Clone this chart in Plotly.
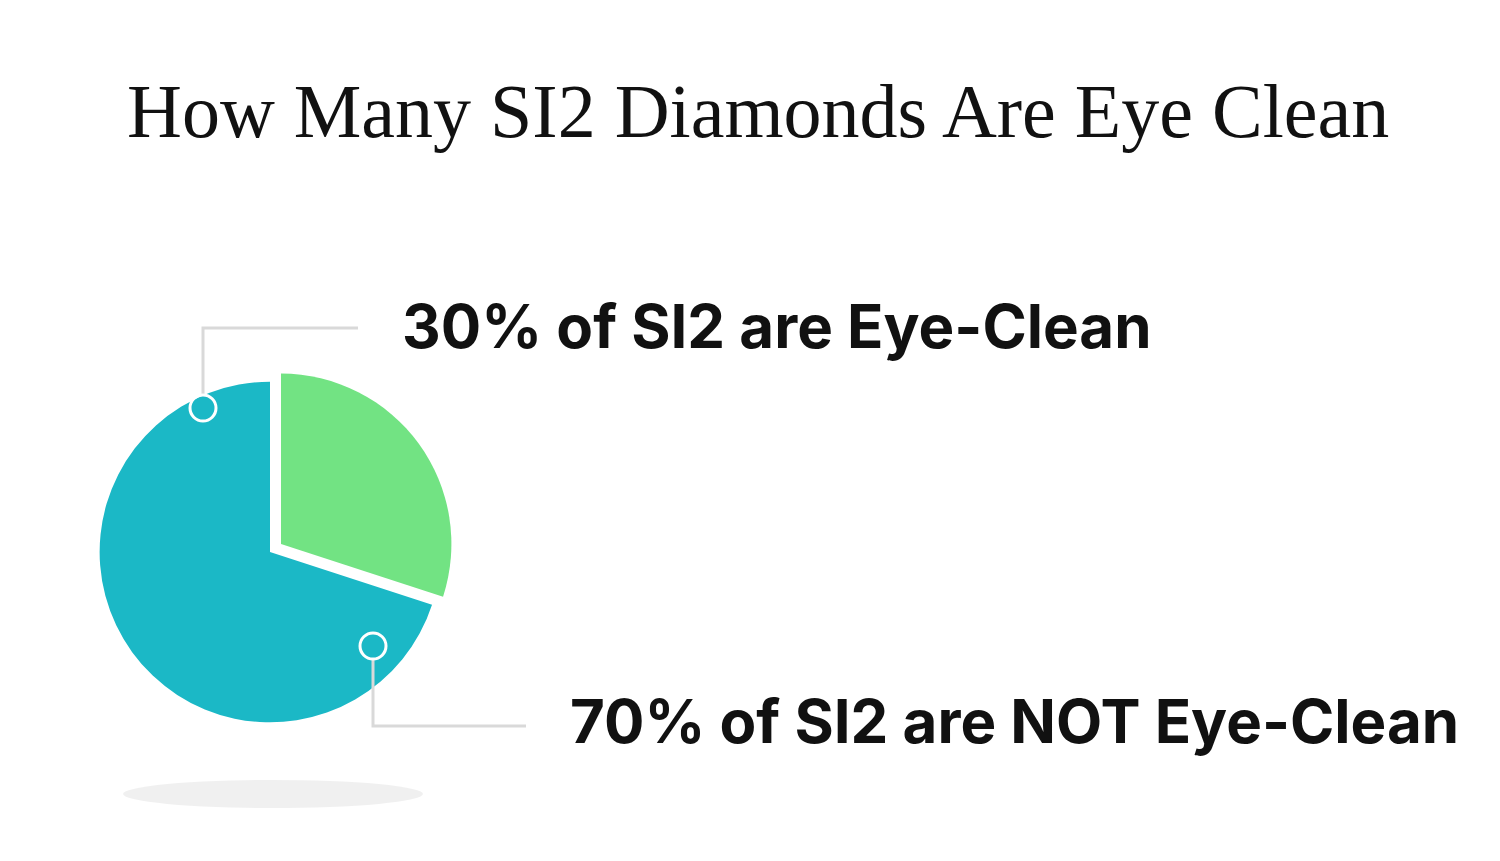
import plotly.graph_objects as go

labels = ["30% of SI2 are Eye-Clean", "70% of SI2 are NOT Eye-Clean"]
values = [30, 70]
colors = ["#72E383", "#1BB8C6"]

W, H = 1500, 861
def px(x): return x / W
def py(y): return 1 - y / H

fig = go.Figure(go.Pie(
    labels=labels, values=values, sort=False, direction="clockwise",
    rotation=0, pull=[0.08, 0], marker=dict(colors=colors, line=dict(width=0)),
    textinfo="none", hoverinfo="label+percent", showlegend=False,
    domain=dict(x=[px(78), px(446)], y=[py(728), py(360)])))

shapes = [
    dict(type="circle", xref="paper", yref="paper", x0=px(115), x1=px(415), y0=py(800), y1=py(772),
         fillcolor="rgba(0,0,0,0.06)", line=dict(width=0), layer="below"),
    dict(type="path", xref="paper", yref="paper",
         path=f"M {px(195)} {py(387)} L {px(195)} {py(320)} L {px(350)} {py(320)}",
         line=dict(color="#D9D9D9", width=3)),
    dict(type="path", xref="paper", yref="paper",
         path=f"M {px(365)} {py(651)} L {px(365)} {py(718)} L {px(518)} {py(718)}",
         line=dict(color="#D9D9D9", width=3)),
    dict(type="circle", xref="paper", yref="paper", x0=px(182), x1=px(208), y0=py(413), y1=py(387),
         line=dict(color="white", width=3)),
    dict(type="circle", xref="paper", yref="paper", x0=px(352), x1=px(378), y0=py(651), y1=py(625),
         line=dict(color="white", width=3)),
]

annotations = [
    dict(text="How Many SI2 Diamonds Are Eye Clean", x=0.5, y=py(103), xref="paper", yref="paper",
         showarrow=False, font=dict(family="Liberation Serif", size=76, color="#111"),
         xanchor="center", yanchor="middle"),
    dict(text="<b>" + labels[0] + "</b>", x=px(392), y=py(318), xref="paper", yref="paper",
         showarrow=False, font=dict(family="Inter", size=60, color="#111"), xanchor="left", yanchor="middle"),
    dict(text="<b>" + labels[1] + "</b>", x=px(560), y=py(713), xref="paper", yref="paper",
         showarrow=False, font=dict(family="Inter", size=60, color="#111"), xanchor="left", yanchor="middle"),
]

fig.update_layout(width=W, height=H, margin=dict(l=0, r=0, t=0, b=0),
                  paper_bgcolor="white", plot_bgcolor="white",
                  shapes=shapes, annotations=annotations)
fig.write_html("out.html")
